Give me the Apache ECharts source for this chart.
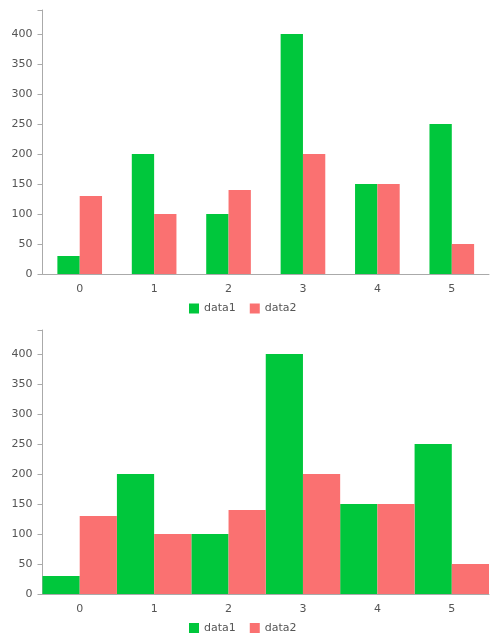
<!DOCTYPE html>
<html>
<head>
<meta charset="utf-8">
<script src="https://cdn.jsdelivr.net/npm/echarts@6/dist/echarts.min.js"></script>
<style>
  html, body { margin: 0; padding: 0; background: #fff; }
  #main { width: 494px; height: 641px; }
</style>
</head>
<body>
<div id="main"></div>
<script>
const categories = ['0', '1', '2', '3', '4', '5'];
const data1 = [30, 200, 100, 400, 150, 250];
const data2 = [130, 100, 140, 200, 150, 50];

const chart = echarts.init(document.getElementById('main'));

const axisColor = '#aaa';
const labelColor = '#555';

function xAxisFor(gridIndex) {
    return {
        type: 'category',
        gridIndex: gridIndex,
        data: categories,
        axisLine: { lineStyle: { color: axisColor } },
        axisTick: {
            length: 6,
            interval: (i) => i === 0,
            lineStyle: { color: axisColor }
        },
        axisLabel: { color: labelColor, fontSize: 11, margin: 10 },
        splitLine: { show: false }
    };
}

function yAxisFor(gridIndex) {
    return {
        type: 'value',
        gridIndex: gridIndex,
        min: 0,
        max: 440,
        interval: 50,
        axisLine: { show: true, lineStyle: { color: axisColor } },
        axisTick: { show: true, length: 5, lineStyle: { color: axisColor } },
        axisLabel: {
            color: labelColor,
            fontSize: 11,
            margin: 10,
            formatter: (v) => (v > 400 ? '' : v)
        },
        splitLine: { show: false }
    };
}

function legendFor(top) {
    return {
        data: ['data1', 'data2'],
        left: 189,
        top: top,
        padding: 0,
        itemWidth: 10,
        itemHeight: 10,
        itemGap: 14,
        icon: 'rect',
        textStyle: { color: labelColor, fontSize: 11 }
    };
}

chart.setOption({
    animation: false,
    color: ['#00c73c', '#fa7171'],
    textStyle: { fontFamily: 'DejaVu Sans' },
    legend: [legendFor(303), legendFor(622.5)],
    grid: [
        { left: 42.5, right: 5, top: 10, height: 264 },
        { left: 42.5, right: 5, top: 330, height: 264 }
    ],
    xAxis: [xAxisFor(0), xAxisFor(1)],
    yAxis: [yAxisFor(0), yAxisFor(1)],
    series: [
        { name: 'data1', type: 'bar', xAxisIndex: 0, yAxisIndex: 0, barWidth: '30%', barGap: '0%', data: data1 },
        { name: 'data2', type: 'bar', xAxisIndex: 0, yAxisIndex: 0, barWidth: '30%', barGap: '0%', data: data2 },
        { name: 'data1', type: 'bar', xAxisIndex: 1, yAxisIndex: 1, barWidth: '50%', barGap: '0%', data: data1 },
        { name: 'data2', type: 'bar', xAxisIndex: 1, yAxisIndex: 1, barWidth: '50%', barGap: '0%', data: data2 }
    ]
});
</script>
</body>
</html>
